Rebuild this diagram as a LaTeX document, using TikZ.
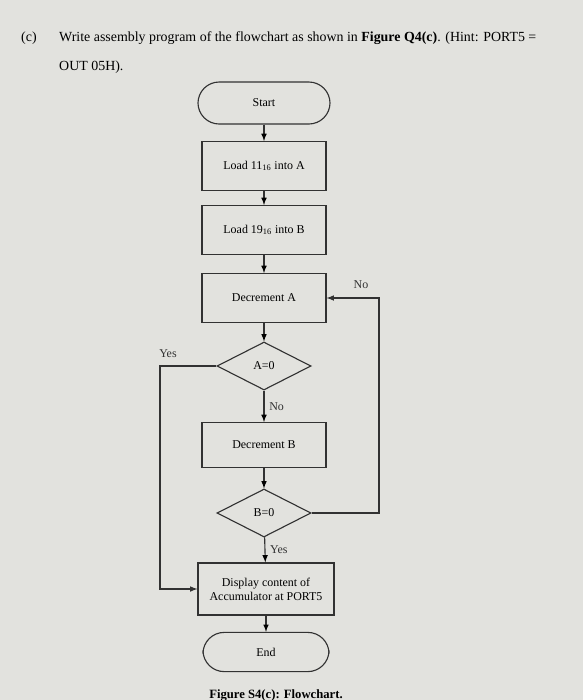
\documentclass[tikz,border=0pt]{standalone}
\usepackage{fontspec}
\setmainfont{Liberation Serif}
\usetikzlibrary{shapes.geometric}
\definecolor{paper}{RGB}{226,226,222}
\definecolor{ink}{RGB}{50,50,50}
\begin{document}
\begin{tikzpicture}[x=0.025cm,y=-0.025cm,
  thick,>=latex,
  term node/.style={draw=ink,rectangle,rounded corners=5.3mm,minimum width=3.3cm,minimum height=1.05cm,font=\fontsize{8.5}{10}\selectfont},
  box node/.style={draw=ink,rectangle,minimum width=3.1cm,minimum height=1.22cm,align=center,font=\fontsize{8.5}{10}\selectfont},
  test node/.style={draw=ink,diamond,aspect=2,minimum width=2.35cm,minimum height=1.2cm,inner sep=1pt,font=\fontsize{8.5}{10}\selectfont},
  tag/.style={font=\fontsize{8.5}{10}\selectfont,text=ink}]

  \fill[paper] (0,0) rectangle (583,700);
  \useasboundingbox (0,0) rectangle (583,700);

  \node[anchor=west,font=\fontsize{9.9}{11}\selectfont] (part) at (16,38) {(c)};
  \node[anchor=west,font=\fontsize{9.9}{11}\selectfont] (q1) at (54,38) {Write assembly program of the flowchart as shown in \textbf{Figure Q4(c)}. (Hint: PORT5 =};
  \node[anchor=west,font=\fontsize{9.9}{11}\selectfont] (q2) at (54,67) {OUT 05H).};

  \node[term node] (start) at (264,103) {Start};
  \node[box node] (loadA) at (264,166) {Load 11\textsubscript{16} into A};
  \node[box node] (loadB) at (264,230) {Load 19\textsubscript{16} into B};
  \node[box node] (decA) at (264,298) {Decrement A};
  \node[test node] (testA) at (264,366) {A=0};
  \node[box node,minimum height=1.12cm] (decB) at (264,445) {Decrement B};
  \node[test node] (testB) at (264,513) {B=0};
  \node[box node,minimum width=3.4cm,minimum height=1.3cm] (show) at (266,589) {Display content of\\Accumulator at PORT5};
  \node[term node,minimum width=3.15cm,minimum height=0.98cm] (stop) at (266,652) {End};

  \node[anchor=north,font=\fontsize{9}{11}\selectfont\bfseries] (cap) at (276,684) {Figure S4(c): Flowchart.};

  \coordinate (yescorner) at (160,366);
  \coordinate (nocorner) at (379,513);

  \path[draw=ink,->]
    (start) edge (loadA)
    (loadA) edge (loadB)
    (loadB) edge (decA)
    (decA) edge (testA)
    (testA) edge node[tag,right]{No} (decB)
    (decB) edge (testB)
    (testB) edge node[tag,right]{Yes} (show)
    (show) edge (stop);

  \draw[draw=ink,->] (testA.west) -- (yescorner) |- (show.west);
  \draw[draw=ink,->] (testB.east) -- (nocorner) |- (decA.east);
  \node[tag] (yeslab) at (168,354) {Yes};
  \node[tag] (nolab) at (361,285) {No};
\end{tikzpicture}
\end{document}
